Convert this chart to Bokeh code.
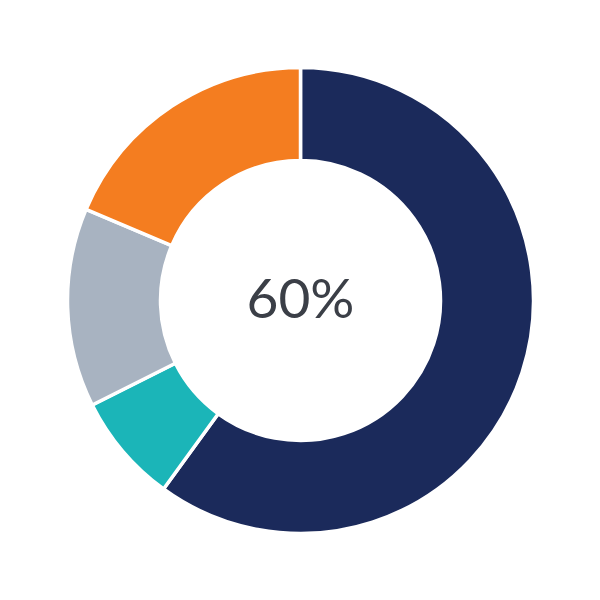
import math
from bokeh.plotting import figure
from bokeh.models import ColumnDataSource
from bokeh.core.properties import value
from bokeh.embed import file_html
from bokeh.resources import INLINE

categories = ["Navy", "Teal", "Gray", "Orange"]
shares = [60.0, 7.6, 13.8, 18.6]
colors = ["#1b2a5b", "#1bb5b8", "#a8b3c1", "#f47d20"]
center_label = "60%"

total = sum(shares)
starts, ends = [], []
acc = 0.0
for s in shares:
    a0 = math.pi / 2 - 2 * math.pi * acc / total
    acc += s
    a1 = math.pi / 2 - 2 * math.pi * acc / total
    starts.append(a0)
    ends.append(a1)

src = ColumnDataSource(dict(cat=categories, val=shares, color=colors,
                            start=starts, end=ends))

W = 584
p = figure(width=W, height=W, x_range=(-300, 284), y_range=(-284, 300),
           output_backend="svg", toolbar_location=None, min_border=0)
p.axis.visible = False
p.grid.visible = False
p.outline_line_color = None
p.background_fill_color = "white"

p.annular_wedge(x=0, y=0, inner_radius=140, outer_radius=233,
                start_angle="start", end_angle="end", direction="clock",
                fill_color="color", line_color="white", line_width=3.5, source=src)

p.text(x=[0], y=[4], text=[center_label], text_align="center", text_baseline="middle",
       text_font=value("Lato"), text_font_size="55px", text_color="#3b3f47")

open("out.html", "w").write(file_html(p, INLINE))
